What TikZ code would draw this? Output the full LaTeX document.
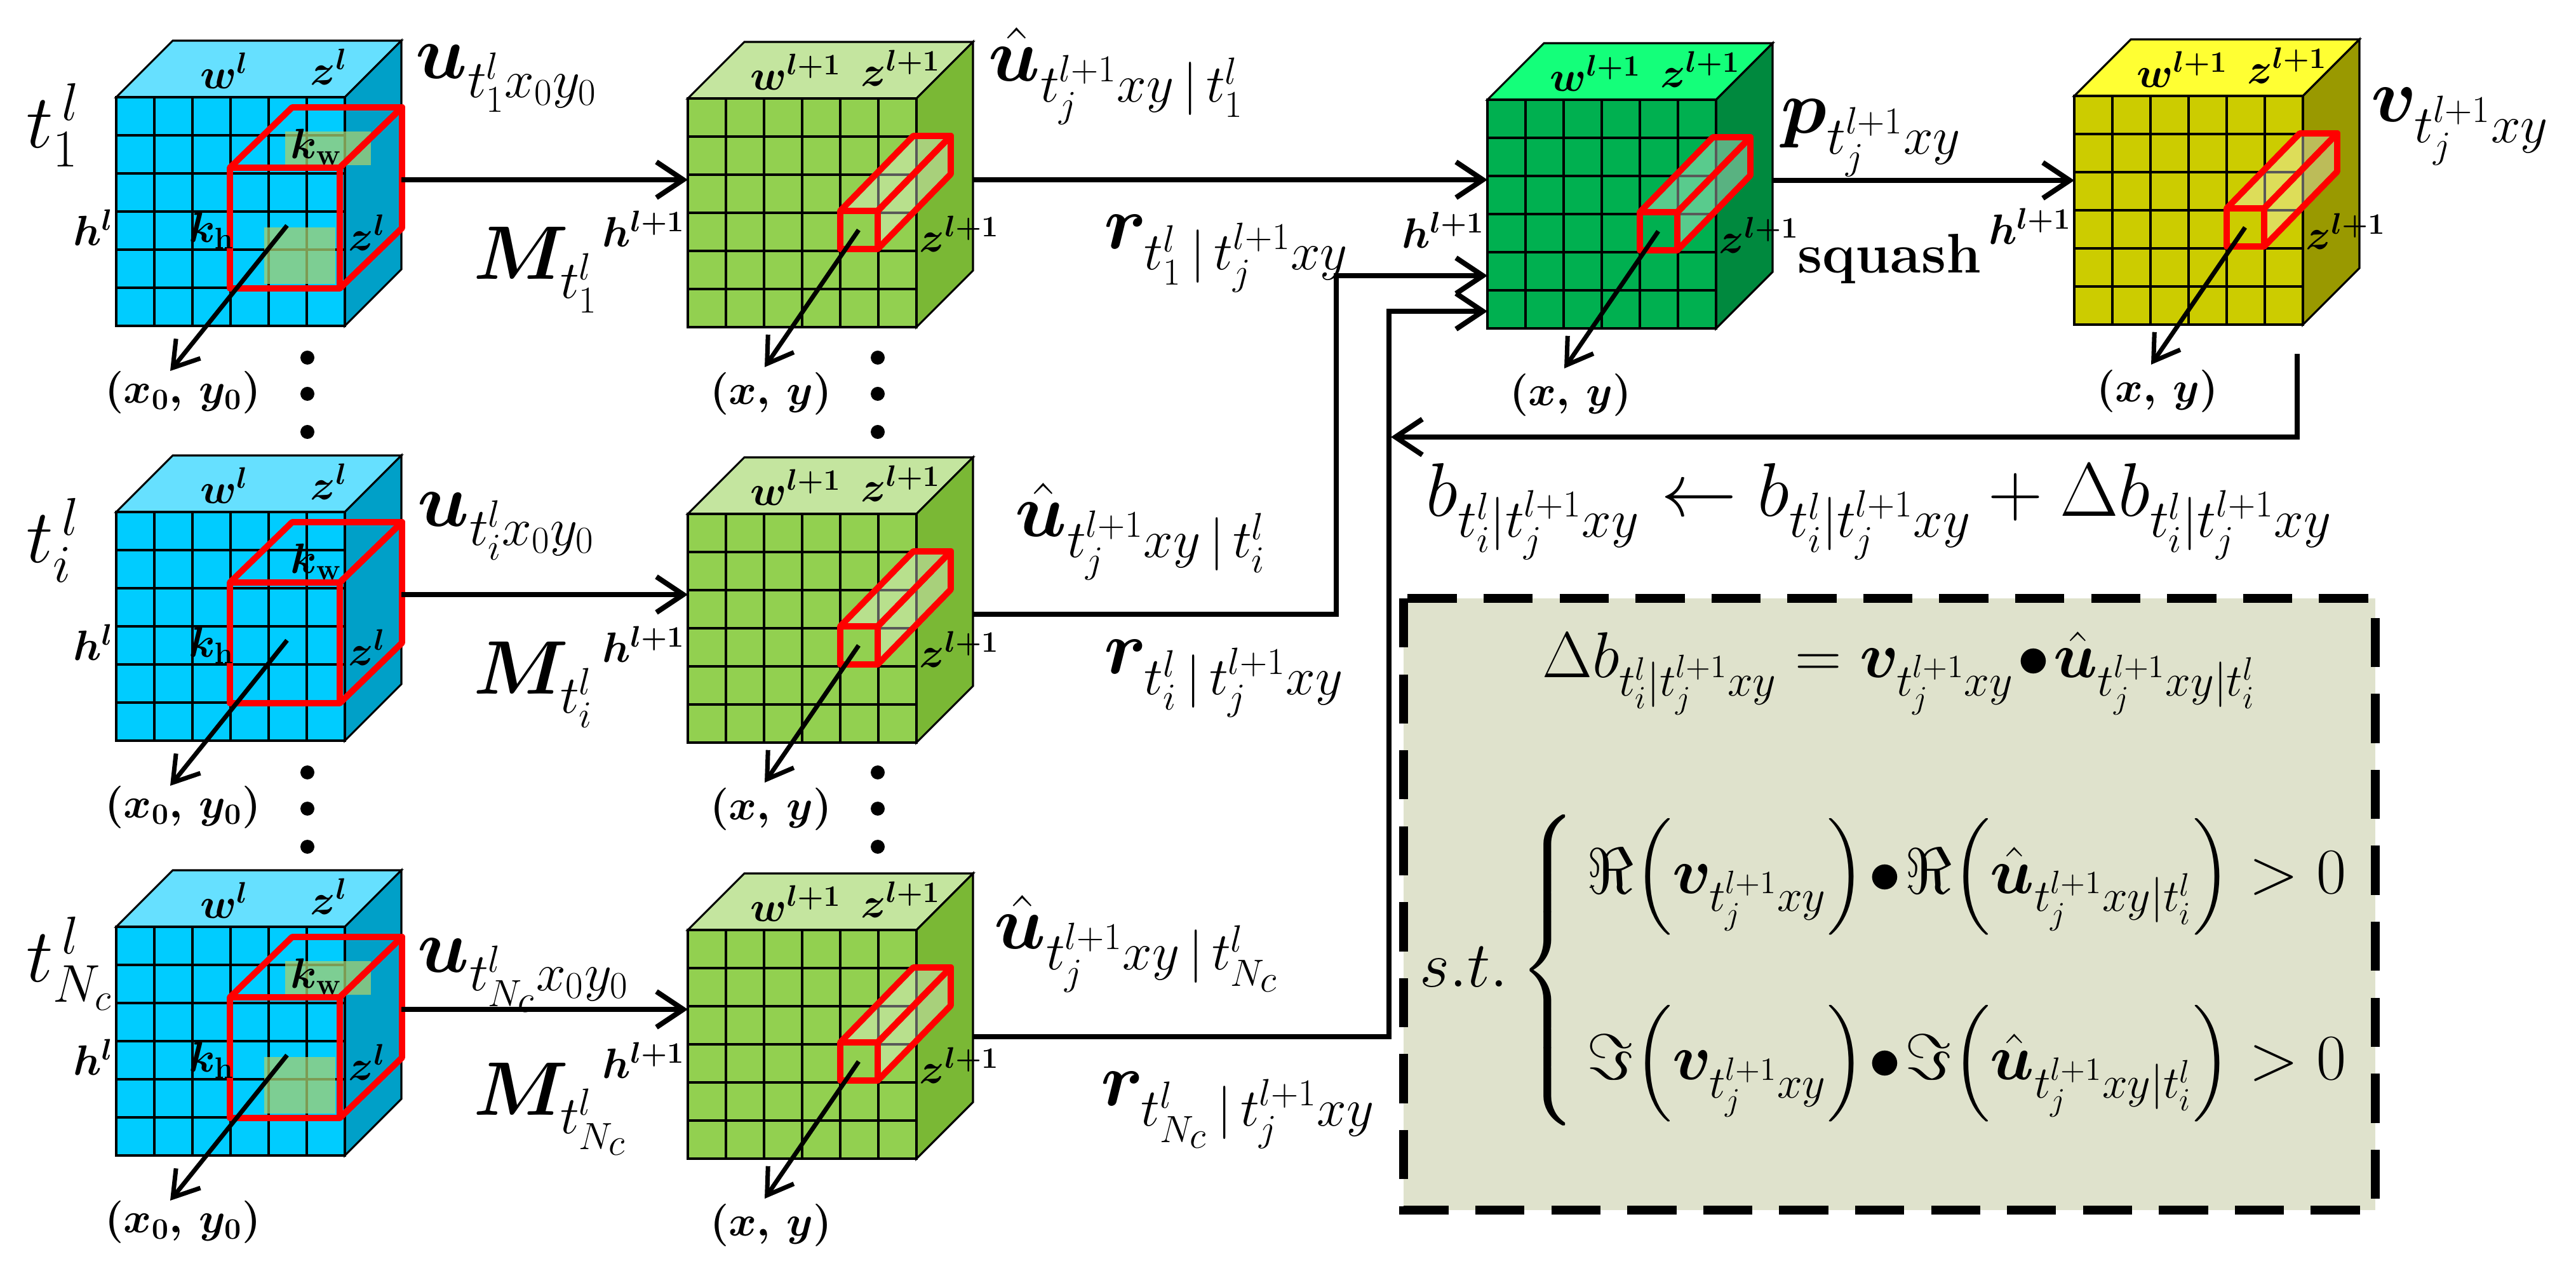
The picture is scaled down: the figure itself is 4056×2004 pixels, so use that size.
\documentclass[tikz,border=0pt]{standalone}
\usepackage{fix-cm}
\usepackage{amsmath,amssymb,bm}
\usetikzlibrary{arrows.meta,calc}
\definecolor{bF}{HTML}{00CCFF}\definecolor{bT}{HTML}{66E0FF}\definecolor{bS}{HTML}{00A0C8}
\definecolor{gF}{HTML}{92D050}\definecolor{gT}{HTML}{C4E59F}\definecolor{gS}{HTML}{7AB835}
\definecolor{dF}{HTML}{00B050}\definecolor{dT}{HTML}{14FF7A}\definecolor{dS}{HTML}{00893E}
\definecolor{yF}{HTML}{CCCC00}\definecolor{yT}{HTML}{FFFF33}\definecolor{yS}{HTML}{999900}
\definecolor{boxF}{HTML}{DFE2CC}\definecolor{shd}{HTML}{A8D070}
\tikzset{
 cubeline/.style={black,line width=0.9pt},
 redl/.style={red,line width=2.8pt,line join=round},
 conn/.style={line width=2.3pt,-{Straight Barb[length=12pt,width=16pt,line width=2.3pt]}},
 inarrow/.style={line width=2pt,-{Straight Barb[length=11pt,width=14pt,line width=2pt]}},
 big/.style={font=\fontsize{34}{40}\selectfont},
 boxf/.style={font=\fontsize{29}{34}\selectfont},
 small/.style={font=\fontsize{19}{22}\selectfont\boldmath},
 every node/.style={inner sep=0pt}
}
\newcommand\mycube[6]{%
\begin{scope}[shift={#1}]
\coordinate (#5) at (0,0);
\draw[cubeline,fill=#3] (0,0)--(89,-89)--(449,-89)--(360,0)--cycle;
\draw[cubeline,fill=#4] (360,0)--(449,-89)--(449,271)--(360,360)--cycle;
\draw[cubeline,fill=#2] (0,0) rectangle (360,360);
\foreach \k in {60,120,...,300}{\draw[cubeline] (\k,0)--(\k,360); \draw[cubeline] (0,\k)--(360,\k);}
\node[small] at (170,-42) {$w^{#6}$};
\node[small] at (335,-48) {$z^{#6}$};
\node[small,anchor=east] at (-4,205) {$h^{#6}$};
\end{scope}}
\newcommand\blueinside[2]{% origin, shades yes/no
\begin{scope}[shift={#1}]
\ifnum#2=1
\fill[shd,opacity=0.75] (266,54) rectangle (401,107);
\fill[shd,opacity=0.75] (233,205) rectangle (345,294);
\fi
\draw[redl] (179,111) rectangle (352,301);
\draw[redl] (179,111)--(277,16)--(450,16)--(352,111);
\draw[redl] (352,111)--(450,16)--(450,206)--(352,301);
\node[small] at (315,78) {$k_{\mathrm{w}}$};
\node[small] at (150,210) {$k_{\mathrm{h}}$};
\node[small] at (395,213) {$z^{l}$};
\draw[inarrow] (269,202) -- (85,431);
\node[small] at (105,465) {$(x_0,\,y_0)$};
\end{scope}}
\newcommand\prism[1]{%
\begin{scope}[shift={#1}]
\fill[white,opacity=0.35] (240,177)--(355,59)--(414,59)--(414,119)--(299,237)--(299,177)--cycle;
\draw[redl] (240,177) rectangle (299,237);
\draw[redl] (240,177)--(355,59)--(414,59)--(299,177);
\draw[redl] (299,177)--(414,59)--(414,119)--(299,237);
\node[small,anchor=west] at (364,213) {$z^{l+1}$};
\draw[inarrow] (269,207) -- (121,423);
\node[small] at (131,465) {$(x,\,y)$};
\end{scope}}
\begin{document}
\begin{tikzpicture}[x=0.01cm,y=-0.01cm]
\useasboundingbox (0,0) rectangle (4056,2004);
% cubes
\mycube{(183,153)}{bF}{bT}{bS}{b1}{l}\blueinside{(183,153)}{1}
\mycube{(183,806)}{bF}{bT}{bS}{b2}{l}\blueinside{(183,806)}{0}
\mycube{(183,1459)}{bF}{bT}{bS}{b3}{l}\blueinside{(183,1459)}{1}
\mycube{(1083,155)}{gF}{gT}{gS}{g1}{l+1}\prism{(1083,155)}
\mycube{(1083,809)}{gF}{gT}{gS}{g2}{l+1}\prism{(1083,809)}
\mycube{(1083,1464)}{gF}{gT}{gS}{g3}{l+1}\prism{(1083,1464)}
\mycube{(2342,157)}{dF}{dT}{dS}{dk}{l+1}\prism{(2342,157)}
\mycube{(3266,151)}{yF}{yT}{yS}{yl}{l+1}\prism{(3266,151)}
% dots
\foreach \yy in {0,653}{
 \foreach \dy in {563,620,680}{
  \fill (484,\dy+\yy) circle (11);
  \fill (1382,\dy+\yy) circle (11);}}
% connectors
\draw[conn] ($(b1)+(449,130)$) -- ($(g1)+(0,128)$);
\draw[conn] ($(b2)+(449,130)$) -- ($(g2)+(0,127)$);
\draw[conn] ($(b3)+(449,130)$) -- ($(g3)+(0,125)$);
\draw[conn] ($(g1)+(449,128)$) -- ($(dk)+(0,126)$);
\coordinate (r2turn) at (2104,434);
\coordinate (r3turn) at (2187,490);
\draw[conn] ($(g2)+(449,158)$) -| (r2turn) -- (r2turn -| dk);
\draw[conn] ($(g3)+(449,168)$) -| (r3turn) -- (r3turn -| dk);
\draw[conn] ($(dk)+(449,127)$) -- ($(yl)+(0,133)$);
\coordinate (fb) at ($(yl)+(351,406)$);
\coordinate (fbend) at (2190,688);
\draw[conn] (fb) |- (fbend);
% labels
\node[big,anchor=base west] at (41,233) {$t_1^{\,l}$};
\node[big,anchor=base west] at (41,886) {$t_i^{\,l}$};
\node[big,anchor=base west] at (41,1545) {$t_{N_c}^{\,l}$};
\node[big,anchor=base west] at (654,124) {$\bm{u}_{t_1^l x_0 y_0}$};
\node[big,anchor=base west] at (657,829) {$\bm{u}_{t_i^l x_0 y_0}$};
\node[big,anchor=base west] at (657,1530) {$\bm{u}_{t_{N_c}^l x_0 y_0}$};
\node[big,anchor=base west] at (745,440) {$\bm{M}_{t_1^l}$};
\node[big,anchor=base west] at (745,1093) {$\bm{M}_{t_i^l}$};
\node[big,anchor=base west] at (745,1755) {$\bm{M}_{t_{N_c}^l}$};
\node[big,anchor=base west] at (1556,128) {$\hat{\bm{u}}_{t_j^{l+1}xy\,|\,t_1^l}$};
\node[big,anchor=base west] at (1598,845) {$\hat{\bm{u}}_{t_j^{l+1}xy\,|\,t_i^l}$};
\node[big,anchor=base west] at (1565,1494) {$\hat{\bm{u}}_{t_j^{l+1}xy\,|\,t_{N_c}^l}$};
\node[big,anchor=base west] at (1738,392) {$\bm{r}_{t_1^l\,|\,t_j^{l+1}xy}$};
\node[big,anchor=base west] at (1738,1061) {$\bm{r}_{t_i^l\,|\,t_j^{l+1}xy}$};
\node[big,anchor=base west] at (1733,1740) {$\bm{r}_{t_{N_c}^l\,|\,t_j^{l+1}xy}$};
\node[big,anchor=base west] at (2804,210) {$\bm{p}_{t_j^{l+1}xy}$};
\node[big,anchor=base west] at (3733,192) {$\bm{v}_{t_j^{l+1}xy}$};
\node[font=\fontsize{25}{30}\selectfont,anchor=base west] at (2830,430) {\textbf{squash}};
\node[big,anchor=base west] at (2245,813) {$b_{t_i^l|t_j^{l+1}xy}\leftarrow b_{t_i^l|t_j^{l+1}xy}+\Delta b_{t_i^l|t_j^{l+1}xy}$};
% box
\draw[line width=4pt,dash pattern=on 22pt off 12pt,fill=boxF] (2210,942) rectangle (3740,1905);
\node[boxf] at (2990,1060) {$\Delta b_{t_i^l|t_j^{l+1}xy}=\bm{v}_{t_j^{l+1}xy}\!\bullet\!\hat{\bm{u}}_{t_j^{l+1}xy|t_i^l}$};
\node[boxf,anchor=base west] at (2235,1553) {$s.t.\left\{\begin{array}{@{\,}l@{}}
\Re\Bigl(\bm{v}_{t_j^{l+1}xy}\Bigr)\!\bullet\!\Re\Bigl(\hat{\bm{u}}_{t_j^{l+1}xy|t_i^l}\Bigr)>0\\[40pt]
\Im\Bigl(\bm{v}_{t_j^{l+1}xy}\Bigr)\!\bullet\!\Im\Bigl(\hat{\bm{u}}_{t_j^{l+1}xy|t_i^l}\Bigr)>0
\end{array}\right.$};
\end{tikzpicture}
\end{document}
